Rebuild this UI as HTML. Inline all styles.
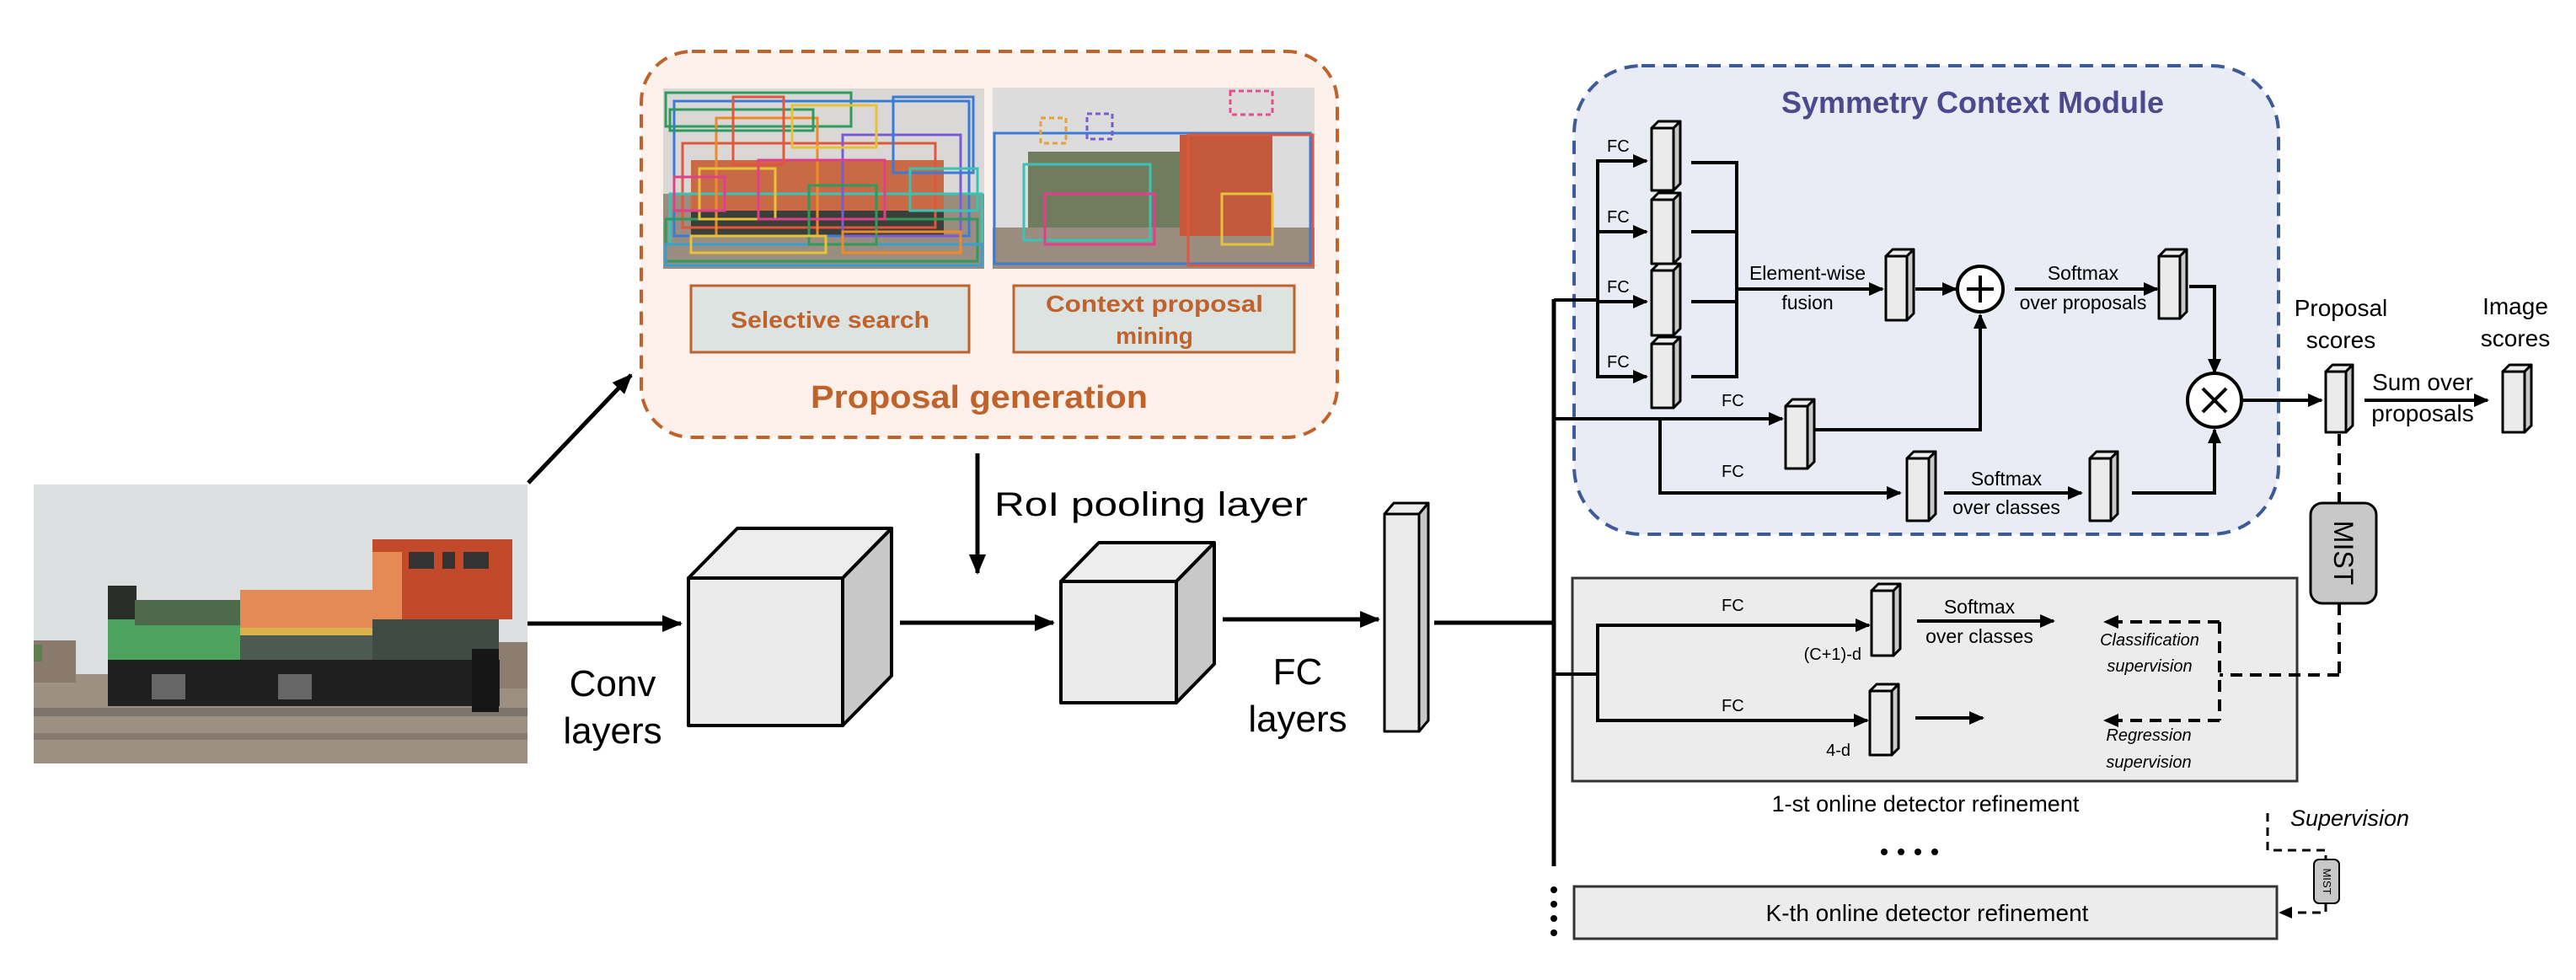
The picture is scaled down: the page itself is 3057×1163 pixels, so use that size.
<!DOCTYPE html>
<html><head><meta charset="utf-8"><style>
html,body{margin:0;padding:0;background:#fff;}
svg{display:block;}
text{font-family:"Liberation Sans",sans-serif;}
</style></head><body>
<svg width="3057" height="1163" viewBox="0 0 3057 1163" xmlns="http://www.w3.org/2000/svg">
<defs>
<marker id="ah" markerUnits="userSpaceOnUse" markerWidth="24" markerHeight="20" refX="22" refY="10" orient="auto"><path d="M0,0 L24,10 L0,20 z" fill="#000"/></marker>
<marker id="as" markerUnits="userSpaceOnUse" markerWidth="18" markerHeight="16" refX="16" refY="8" orient="auto"><path d="M0,0 L18,8 L0,16 z" fill="#000"/></marker>
</defs>

<!-- Train photo -->
<g>
<rect x="40" y="575" width="586" height="331" fill="#dcdfe0"/>
<rect x="40" y="800" width="586" height="106" fill="#9d8f82"/>
<rect x="40" y="840" width="586" height="10" fill="#7d746c"/>
<rect x="40" y="870" width="586" height="8" fill="#857a70"/>
<rect x="40" y="760" width="50" height="50" fill="#8a7a6c"/>
<rect x="580" y="762" width="46" height="55" fill="#8d7d6e"/>
<rect x="40" y="765" width="10" height="20" fill="#5f7e4f"/>
<rect x="128" y="695" width="34" height="40" fill="#2a2e2a"/>
<rect x="128" y="735" width="160" height="55" fill="#4ea35e"/>
<rect x="160" y="712" width="125" height="30" fill="#4e6a4c"/>
<rect x="285" y="700" width="160" height="54" fill="#e48a56"/>
<rect x="285" y="745" width="160" height="10" fill="#d9b24a"/>
<rect x="285" y="754" width="160" height="30" fill="#4b5b52"/>
<rect x="442" y="640" width="166" height="95" fill="#c24a2a"/>
<rect x="442" y="655" width="35" height="80" fill="#e58955"/>
<rect x="485" y="655" width="30" height="20" fill="#333"/><rect x="525" y="655" width="15" height="20" fill="#333"/><rect x="550" y="655" width="30" height="20" fill="#333"/>
<rect x="442" y="735" width="150" height="48" fill="#3f4b44"/>
<rect x="128" y="783" width="465" height="55" fill="#1f1f1f"/>
<rect x="180" y="800" width="40" height="30" fill="#666"/><rect x="330" y="800" width="40" height="30" fill="#666"/>
<rect x="560" y="770" width="32" height="75" fill="#161616"/>
</g>

<!-- Proposal generation box -->
<rect x="761" y="61" width="826" height="458" rx="60" fill="#fbf0ea" stroke="#c0622b" stroke-width="4" stroke-dasharray="16,10"/>
<!-- selective search image -->
<g>
<rect x="787" y="105" width="381" height="214" fill="#d9d8d6"/>
<rect x="787" y="230" width="381" height="89" fill="#9a8d80"/>
<rect x="820" y="190" width="300" height="65" fill="#c86a45"/>
<rect x="820" y="250" width="300" height="30" fill="#3b3f3a"/>
<g fill="none" stroke-width="3">
<rect x="790" y="110" width="220" height="40" stroke="#2e9a5c"/>
<rect x="800" y="120" width="350" height="160" stroke="#3b7bd6"/>
<rect x="810" y="170" width="300" height="100" stroke="#e0573c"/>
<rect x="795" y="230" width="370" height="60" stroke="#39c3b5"/>
<rect x="850" y="140" width="120" height="140" stroke="#ef8a2b"/>
<rect x="1000" y="160" width="140" height="120" stroke="#7a5bd0"/>
<rect x="790" y="260" width="370" height="50" stroke="#2e9a5c"/>
<rect x="830" y="200" width="90" height="60" stroke="#e6c23a"/>
<rect x="900" y="190" width="150" height="70" stroke="#e0408a"/>
<rect x="790" y="290" width="375" height="25" stroke="#38a0d0"/>
<rect x="795" y="130" width="170" height="25" stroke="#2e9a5c"/>
<rect x="870" y="115" width="60" height="80" stroke="#e0573c"/>
<rect x="940" y="125" width="100" height="50" stroke="#e6c23a"/>
<rect x="1060" y="115" width="95" height="90" stroke="#3b7bd6"/>
<rect x="1080" y="200" width="80" height="50" stroke="#39c3b5"/>
<rect x="800" y="210" width="60" height="40" stroke="#e0408a"/>
<rect x="960" y="220" width="80" height="70" stroke="#2e9a5c"/>
<rect x="820" y="280" width="160" height="20" stroke="#e6c23a"/>
<rect x="1000" y="275" width="140" height="25" stroke="#ef8a2b"/>
</g>
</g>
<!-- context proposal image -->
<g>
<rect x="1178" y="104" width="382" height="215" fill="#dcdcdc"/>
<rect x="1178" y="270" width="382" height="49" fill="#9a8d80"/>
<rect x="1220" y="180" width="200" height="90" fill="#6f7c5e"/>
<rect x="1400" y="160" width="110" height="120" fill="#c4583a"/>
<g fill="none" stroke-width="3">
<rect x="1180" y="158" width="375" height="155" stroke="#3b7bd6"/>
<rect x="1410" y="160" width="148" height="155" stroke="#e0573c"/>
<rect x="1215" y="195" width="150" height="90" stroke="#39c3b5"/>
<rect x="1240" y="230" width="130" height="60" stroke="#e0408a"/>
<rect x="1450" y="230" width="60" height="60" stroke="#e6c23a"/>
<rect x="1235" y="140" width="30" height="30" stroke="#e6a23a" stroke-dasharray="6,4"/>
<rect x="1290" y="135" width="30" height="30" stroke="#7a5bd0" stroke-dasharray="6,4"/>
<rect x="1460" y="108" width="50" height="28" stroke="#e05090" stroke-dasharray="6,4"/>
</g>
</g>
<rect x="820" y="339" width="330" height="79" fill="#dde3e1" stroke="#c0622b" stroke-width="3"/>
<text x="985" y="389" font-size="28" font-weight="bold" fill="#c0622b" text-anchor="middle" textLength="236" lengthAdjust="spacingAndGlyphs">Selective search</text>
<rect x="1203" y="339" width="333" height="79" fill="#dde3e1" stroke="#c0622b" stroke-width="3"/>
<text x="1370" y="370" font-size="28" font-weight="bold" fill="#c0622b" text-anchor="middle" textLength="258" lengthAdjust="spacingAndGlyphs">Context proposal</text>
<text x="1370" y="408" font-size="28" font-weight="bold" fill="#c0622b" text-anchor="middle">mining</text>
<text x="1162" y="484" font-size="38" font-weight="bold" fill="#c0622b" text-anchor="middle" textLength="400" lengthAdjust="spacingAndGlyphs">Proposal generation</text>

<!-- left flow -->
<g stroke="#000" stroke-width="5" fill="none">
<line x1="627" y1="573" x2="749" y2="445" marker-end="url(#ah)"/>
<line x1="1160" y1="538" x2="1160" y2="680" marker-end="url(#ah)"/>
<line x1="626" y1="740" x2="808" y2="740" marker-end="url(#ah)"/>
<line x1="1068" y1="739" x2="1250" y2="739" marker-end="url(#ah)"/>
<line x1="1451" y1="735" x2="1636" y2="735" marker-end="url(#ah)"/>
<line x1="1702" y1="739" x2="1846" y2="739"/>
<line x1="1844" y1="355" x2="1844" y2="1028"/>
</g>
<g fill="#000"><circle cx="1844" cy="1056" r="4"/><circle cx="1844" cy="1073" r="4"/><circle cx="1844" cy="1090" r="4"/><circle cx="1844" cy="1107" r="4"/></g>
<text x="1180" y="612" font-size="40" textLength="372" lengthAdjust="spacingAndGlyphs">RoI pooling layer</text>
<text x="727" y="826" font-size="44" text-anchor="middle">Conv</text>
<text x="727" y="882" font-size="44" text-anchor="middle">layers</text>
<text x="1540" y="812" font-size="44" text-anchor="middle">FC</text>
<text x="1540" y="868" font-size="44" text-anchor="middle">layers</text>

<!-- cubes -->
<g stroke="#000" stroke-width="4" stroke-linejoin="round">
<polygon points="817,686 875,627 1058,627 1000,686" fill="#eeedee"/>
<polygon points="1000,686 1058,627 1058,802 1000,861" fill="#c9c8c9"/>
<rect x="817" y="686" width="183" height="175" fill="#ecebec"/>
<polygon points="1259,690 1304,644 1441,644 1396,690" fill="#eeedee"/>
<polygon points="1396,690 1441,644 1441,788 1396,834" fill="#c9c8c9"/>
<rect x="1259" y="690" width="137" height="144" fill="#ecebec"/>
<polygon points="1643,610 1654,597 1695,597 1684,610" fill="#eeedee" stroke-width="3"/>
<polygon points="1684,610 1695,597 1695,855 1684,868" fill="#c9c8c9" stroke-width="3"/>
<rect x="1643" y="610" width="41" height="258" fill="#ecebec" stroke-width="3"/>
</g>

<!-- Symmetry context module -->
<rect x="1868" y="78" width="836" height="556" rx="80" fill="#e9ebf5" stroke="#3d5a99" stroke-width="4" stroke-dasharray="16,10"/>
<text x="2341" y="134" font-size="36" font-weight="bold" fill="#4b4a8c" text-anchor="middle">Symmetry Context Module</text>

<g stroke="#000" stroke-width="4" fill="none">
<line x1="1844" y1="356" x2="1898" y2="356"/>
<line x1="1896" y1="189" x2="1896" y2="449"/>
<line x1="1896" y1="191" x2="1954" y2="191" marker-end="url(#as)"/>
<line x1="1896" y1="275" x2="1954" y2="275" marker-end="url(#as)"/>
<line x1="1896" y1="358" x2="1954" y2="358" marker-end="url(#as)"/>
<line x1="1896" y1="447" x2="1954" y2="447" marker-end="url(#as)"/>
<line x1="2007" y1="193" x2="2061" y2="193"/>
<line x1="2007" y1="275" x2="2061" y2="275"/>
<line x1="2007" y1="358" x2="2061" y2="358"/>
<line x1="2007" y1="447" x2="2061" y2="447"/>
<line x1="2061" y1="191" x2="2061" y2="449"/>
<line x1="2061" y1="343" x2="2234" y2="343" marker-end="url(#as)"/>
<line x1="2273" y1="343" x2="2321" y2="343" marker-end="url(#as)"/>
<line x1="2391" y1="343" x2="2560" y2="343" marker-end="url(#as)"/>
<line x1="2598" y1="340" x2="2628" y2="340"/>
<line x1="2628" y1="338" x2="2628" y2="442" marker-end="url(#as)"/>
<line x1="2662" y1="475" x2="2755" y2="475" marker-end="url(#as)"/>
<line x1="2806" y1="475" x2="2952" y2="475" marker-end="url(#as)"/>
<line x1="1844" y1="497" x2="2115" y2="497" marker-end="url(#as)"/>
<line x1="2153" y1="510" x2="2350" y2="510"/>
<line x1="2350" y1="512" x2="2350" y2="374" marker-end="url(#as)"/>
<line x1="1970" y1="497" x2="1970" y2="585"/>
<line x1="1968" y1="585" x2="2255" y2="585" marker-end="url(#as)"/>
<line x1="2307" y1="585" x2="2470" y2="585" marker-end="url(#as)"/>
<line x1="2530" y1="585" x2="2628" y2="585"/>
<line x1="2628" y1="587" x2="2628" y2="510" marker-end="url(#as)"/>
</g>
<circle cx="2350" cy="343" r="27" fill="#fff" stroke="#000" stroke-width="4"/>
<path d="M2334,343 H2366 M2350,327 V359" stroke="#000" stroke-width="4"/>
<circle cx="2628" cy="475" r="32" fill="#fff" stroke="#000" stroke-width="4"/>
<path d="M2614,461 L2642,489 M2642,461 L2614,489" stroke="#000" stroke-width="4"/>

<g font-size="20">
<text x="1907" y="180">FC</text><text x="1907" y="264">FC</text><text x="1907" y="347">FC</text><text x="1907" y="436">FC</text>
<text x="2043" y="482">FC</text><text x="2043" y="566">FC</text>
</g>
<g font-size="23" text-anchor="middle">
<text x="2145" y="332">Element-wise</text><text x="2145" y="367">fusion</text>
<text x="2472" y="332">Softmax</text><text x="2472" y="367">over proposals</text>
<text x="2381" y="576">Softmax</text><text x="2381" y="610">over classes</text>
</g>
<g font-size="28" text-anchor="middle">
<text x="2778" y="375">Proposal</text><text x="2778" y="413">scores</text>
<text x="2985" y="373">Image</text><text x="2985" y="411">scores</text>
<text x="2875" y="463">Sum over</text><text x="2875" y="500">proposals</text>
</g>

<!-- small prisms -->
<g stroke="#000" stroke-width="3" stroke-linejoin="round">
<polygon points="1960,152 1968,144 1994,144 1986,152" fill="#eee"/><polygon points="1986,152 1994,144 1994,218 1986,226" fill="#c9c8c9"/><rect x="1960" y="152" width="26" height="74" fill="#ecebec"/>
<polygon points="1960,237 1968,229 1994,229 1986,237" fill="#eee"/><polygon points="1986,237 1994,229 1994,305 1986,313" fill="#c9c8c9"/><rect x="1960" y="237" width="26" height="76" fill="#ecebec"/>
<polygon points="1960,321 1968,313 1994,313 1986,321" fill="#eee"/><polygon points="1986,321 1994,313 1994,390 1986,398" fill="#c9c8c9"/><rect x="1960" y="321" width="26" height="77" fill="#ecebec"/>
<polygon points="1960,408 1968,400 1994,400 1986,408" fill="#eee"/><polygon points="1986,408 1994,400 1994,476 1986,484" fill="#c9c8c9"/><rect x="1960" y="408" width="26" height="76" fill="#ecebec"/>
<polygon points="2238,304 2246,296 2271,296 2263,304" fill="#eee"/><polygon points="2263,304 2271,296 2271,372 2263,380" fill="#c9c8c9"/><rect x="2238" y="304" width="25" height="76" fill="#ecebec"/>
<polygon points="2562,304 2570,296 2595,296 2587,304" fill="#eee"/><polygon points="2587,304 2595,296 2595,370 2587,378" fill="#c9c8c9"/><rect x="2562" y="304" width="25" height="74" fill="#ecebec"/>
<polygon points="2119,482 2127,474 2153,474 2145,482" fill="#eee"/><polygon points="2145,482 2153,474 2153,548 2145,556" fill="#c9c8c9"/><rect x="2119" y="482" width="26" height="74" fill="#ecebec"/>
<polygon points="2263,544 2271,536 2297,536 2289,544" fill="#eee"/><polygon points="2289,544 2297,536 2297,610 2289,618" fill="#c9c8c9"/><rect x="2263" y="544" width="26" height="74" fill="#ecebec"/>
<polygon points="2480,544 2488,536 2513,536 2505,544" fill="#eee"/><polygon points="2505,544 2513,536 2513,610 2505,618" fill="#c9c8c9"/><rect x="2480" y="544" width="25" height="74" fill="#ecebec"/>
<polygon points="2760,441 2768,433 2792,433 2784,441" fill="#eee"/><polygon points="2784,441 2792,433 2792,505 2784,513" fill="#c9c8c9"/><rect x="2760" y="441" width="24" height="72" fill="#ecebec"/>
<polygon points="2970,441 2978,433 3004,433 2996,441" fill="#eee"/><polygon points="2996,441 3004,433 3004,505 2996,513" fill="#c9c8c9"/><rect x="2970" y="441" width="26" height="72" fill="#ecebec"/>
</g>

<!-- refinement 1 -->
<rect x="1866" y="686" width="860" height="241" fill="#ececec" stroke="#333" stroke-width="3"/>
<g stroke="#000" stroke-width="4" fill="none" stroke-dasharray="14,9">
<line x1="2776" y1="515" x2="2776" y2="597"/>
<line x1="2776" y1="716" x2="2776" y2="801"/>
<polyline points="2776,801 2634,801"/>
<line x1="2634" y1="738" x2="2634" y2="855"/>
<line x1="2634" y1="738" x2="2512" y2="738"/>
<line x1="2634" y1="855" x2="2512" y2="855"/>
</g>
<path d="M2496,738 L2514,730 L2514,746 z M2496,855 L2514,847 L2514,863 z" fill="#000"/>
<rect x="2742" y="597" width="78" height="119" rx="14" fill="#c8c8c8" stroke="#000" stroke-width="3"/>
<text transform="translate(2770,656) rotate(90)" font-size="32" text-anchor="middle">MIST</text>

<g stroke="#000" stroke-width="4" fill="none">
<line x1="1844" y1="800" x2="1898" y2="800"/>
<line x1="1896" y1="740" x2="1896" y2="857"/>
<line x1="1894" y1="742" x2="2218" y2="742" marker-end="url(#as)"/>
<line x1="1894" y1="855" x2="2216" y2="855" marker-end="url(#as)"/>
<line x1="2275" y1="737" x2="2437" y2="737" marker-end="url(#as)"/>
<line x1="2273" y1="852" x2="2353" y2="852" marker-end="url(#as)"/>
</g>
<g stroke="#000" stroke-width="3" stroke-linejoin="round">
<polygon points="2221,701 2229,693 2255,693 2247,701" fill="#eee"/><polygon points="2247,701 2255,693 2255,770 2247,778" fill="#c9c8c9"/><rect x="2221" y="701" width="26" height="77" fill="#ecebec"/>
<polygon points="2219,820 2227,812 2253,812 2245,820" fill="#eee"/><polygon points="2245,820 2253,812 2253,888 2245,896" fill="#c9c8c9"/><rect x="2219" y="820" width="26" height="76" fill="#ecebec"/>
</g>
<g font-size="20">
<text x="2043" y="725">FC</text><text x="2043" y="844">FC</text>
<text x="2209" y="783" text-anchor="end">(C+1)-d</text>
<text x="2196" y="897" text-anchor="end">4-d</text>
</g>
<g font-size="23" text-anchor="middle">
<text x="2349" y="728">Softmax</text><text x="2349" y="763">over classes</text>
</g>
<g font-size="20" font-style="italic" text-anchor="middle">
<text x="2551" y="766">Classification</text><text x="2551" y="797">supervision</text>
<text x="2550" y="879">Regression</text><text x="2550" y="911">supervision</text>
</g>
<text x="2285" y="963" font-size="27" text-anchor="middle">1-st online detector refinement</text>
<g fill="#000"><circle cx="2236" cy="1011" r="4"/><circle cx="2256" cy="1011" r="4"/><circle cx="2276" cy="1011" r="4"/><circle cx="2296" cy="1011" r="4"/></g>

<!-- K-th -->
<rect x="1868" y="1052" width="834" height="62" fill="#ececec" stroke="#333" stroke-width="3"/>
<text x="2287" y="1093" font-size="28" text-anchor="middle">K-th online detector refinement</text>
<text x="2718" y="980" font-size="27" font-style="italic">Supervision</text>
<g stroke="#000" stroke-width="3" fill="none" stroke-dasharray="10,7">
<polyline points="2691,965 2691,1009 2760,1009 2760,1020"/>
<polyline points="2760,1072 2760,1083 2720,1083"/>
</g>
<path d="M2704,1083 L2720,1076 L2720,1090 z" fill="#000"/>
<rect x="2746" y="1020" width="30" height="52" rx="6" fill="#c8c8c8" stroke="#000" stroke-width="2"/>
<text transform="translate(2757,1046) rotate(90)" font-size="13" text-anchor="middle">MIST</text>
</svg>
</body></html>
